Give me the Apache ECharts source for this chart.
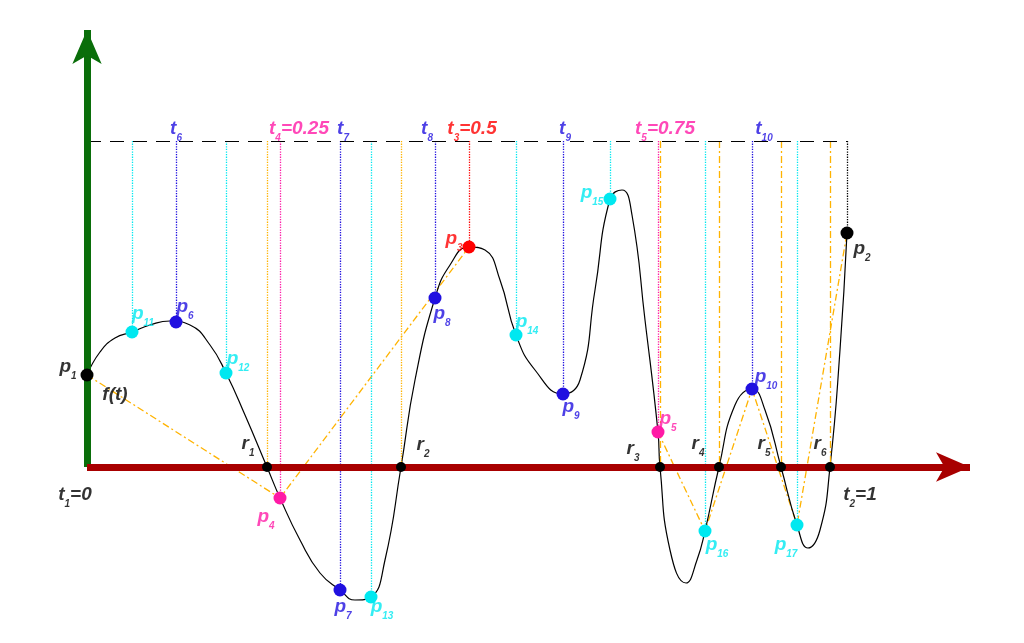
<!DOCTYPE html>
<html><head><meta charset="utf-8">
<script src="https://cdn.jsdelivr.net/npm/echarts@6/dist/echarts.min.js"></script>
<style>html,body{margin:0;padding:0;background:#fff}#c{width:1024px;height:643px}</style>
</head><body><div id="c"></div>
<script>
// units: x = t*760, y = f(t) in the same scale
const curve = [[0,92],[13,115],[28,129],[45,135],[63,142],[83,146],[103,142],[123,122],[139,94],[158,52],[180,0],[193,-31],[213,-73],[233,-106],[253,-123],[268,-133],[284,-130],[298,-93],[314,0],[328,87],[348,169],[363,202],[382,220],[398,217],[413,187],[429,132],[448,97],[476,73],[493,87],[508,177],[523,268],[535,277],[545,252],[558,147],[571,35],[573,0],[583,-83],[599,-116],[610,-93],[618,-64],[632,0],[648,62],[665,78],[678,57],[694,0],[710,-58],[721,-81],[733,-63],[743,0],[753,117],[760,234]];
const pointNames = ['p1','p11','p6','p12','p4','p7','p13','p8','p3','p14','p9','p15','p5','p16','p10','p17','p2'];
const pointX = [0,45,89,139,193,253,284,348,382,429,476,523,571,618,665,710,760];
const pointY = [92,135,145,94,-31,-123,-130,169,220,132,73,268,35,-64,78,-58,234];
const pointKind = ['k','c','b','c','m','b','c','b','r','c','b','c','m','c','b','c','k'];
const rootX = [180,314,573,632,694,743];
const topY = 326;
const polyOrderA = ['p1','p4','p3'];
const polyOrderB = ['p5','p16','p10','p17','p2'];
const labelText = [
 ['p','1','',-19,102,'k'],['f(t)','','',28,74,'k'],['p','11','',56,155,'c'],['p','6','',98,162,'b'],
 ['p','12','',151,110,'c'],['r','1','',161,25,'k'],['p','4','',179,-48,'m'],['p','7','',256,-138,'b'],
 ['p','13','',295,-138,'c'],['r','2','',336,24,'k'],['p','3','',367,230,'r'],['p','8','',355,155,'b'],
 ['p','14','',440,147,'c'],['p','9','',484,62,'b'],['p','15','',505,276,'c'],['p','5','',581,50,'m'],
 ['r','3','',546,20,'k'],['r','4','',611,25,'k'],['p','16','',630,-76,'c'],['p','10','',679,92,'b'],
 ['r','5','',677,25,'k'],['p','17','',699,-76,'c'],['r','6','',733,25,'k'],['p','2','',775,220,'k'],
 ['t','1','=0',-12,-26,'k'],['t','2','=1',773,-26,'k'],
 ['t','6','',89,340,'b'],['t','4','=0.25',212,340,'m'],['t','7','',256,340,'b'],['t','8','',340,340,'b'],
 ['t','3','=0.5',385,340,'r'],['t','9','',478,340,'b'],['t','5','=0.75',578,340,'m'],['t','10','',677,340,'b']
];
const COL = {k:'#000000',c:'#00e8f0',b:'#2010e0',m:'#ff1aa6',r:'#ff0000'};
const ORANGE = '#ffb300';

const vlines = [];
pointNames.forEach((n,i)=>{
  if(n==='p1') return;
  const k = pointKind[i];
  vlines.push([{coord:[pointX[i],topY]},{coord:[pointX[i],pointY[i]],lineStyle:{color:COL[k],type:'dotted',width:1.3}}]);
});
rootX.forEach((x,i)=>{
  vlines.push([{coord:[x,topY]},{coord:[x,0],lineStyle:{color:ORANGE,type:i<2?'dotted':[7,3,2,3],width:1.3}}]);
});
vlines.push([{coord:[0,topY]},{coord:[760,topY],lineStyle:{color:'#000',type:[14,9],width:1}}]);

const pick = n=>{const i=pointNames.indexOf(n);return [pointX[i],pointY[i]];};
const poly = polyOrderA.map(pick).concat([null]).concat(polyOrderB.map(pick));
const pts = pointNames.map((n,i)=>({value:[pointX[i],pointY[i]],itemStyle:{color:COL[pointKind[i]],opacity:1}}));
const roots = rootX.map(x=>[x,0]);

const rich = {};
Object.keys(COL).forEach(k=>{
  rich['m'+k]={fontFamily:'Liberation Sans',fontWeight:'bold',fontStyle:'italic',fontSize:19,color:COL[k],lineHeight:22,verticalAlign:'bottom'};
  rich['s'+k]={fontFamily:'Liberation Sans',fontWeight:'bold',fontStyle:'italic',fontSize:10,color:COL[k],lineHeight:22,verticalAlign:'bottom',padding:[0,0,-5,0]};
});
const labels = labelText.map(l=>({value:[l[3],l[4]],label:{formatter:
  '{m'+l[5]+'|'+l[0]+'}'+(l[1]?'{s'+l[5]+'|'+l[1]+'}':'')+(l[2]?'{m'+l[5]+'|'+l[2]+'}':'')}}));

const chart = echarts.init(document.getElementById('c'));
chart.setOption({
  animation:false,
  grid:{left:0,right:0,top:0,bottom:0},
  xAxis:{type:'value',min:-87,max:937,show:false},
  yAxis:{type:'value',min:-176,max:467,show:false},
  series:[
    {type:'line',data:[],silent:true,z:1,markLine:{silent:true,symbol:['none','none'],label:{show:false},data:vlines}},
    {type:'line',data:poly,symbol:'none',z:2,connectNulls:false,lineStyle:{color:ORANGE,width:1.3,type:[7,3,2,3]}},
    {type:'line',data:[],z:3,markLine:{silent:true,symbol:['none','arrow'],symbolSize:[22,34],label:{show:false},
      data:[[{coord:[0,0]},{coord:[0,437],lineStyle:{color:'#0a6e0a',width:7,type:'solid'}}],
            [{coord:[0,0]},{coord:[883,0],lineStyle:{color:'#a80000',width:7,type:'solid'}}]]}},
    {type:'line',data:curve,smooth:0.5,symbol:'none',z:4,lineStyle:{color:'#000',width:1.2}},
    {type:'scatter',data:roots,symbolSize:10,z:5,itemStyle:{color:'#000',opacity:1}},
    {type:'scatter',data:pts,symbolSize:13,z:6},
    {type:'scatter',data:labels,symbolSize:0,z:7,label:{show:true,position:'inside',rich:rich}}
  ]
});
</script></body></html>
